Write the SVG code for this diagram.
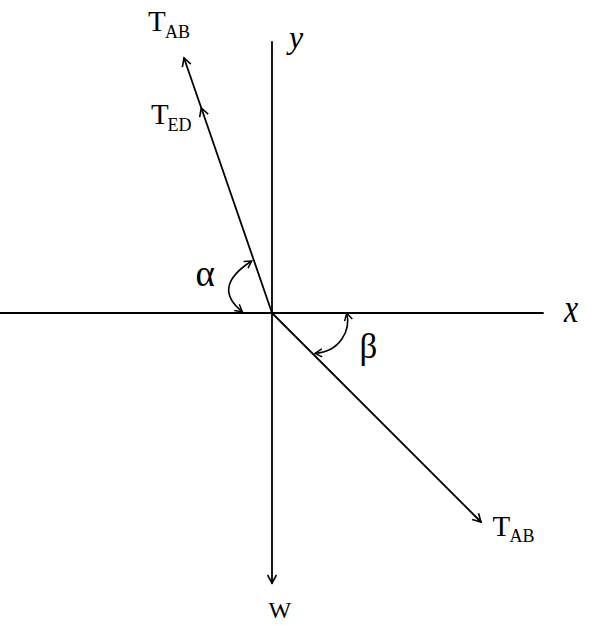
<svg xmlns="http://www.w3.org/2000/svg" width="590" height="625" viewBox="0 0 590 625">
  <defs>
    <style>
      .ln { fill: none; stroke: #000; stroke-width: 1.8; stroke-linecap: round; stroke-linejoin: round; }
      .arc { fill: none; stroke: #000; stroke-width: 1.6; }
      .lbl { font-family: "Liberation Serif", "Times New Roman", serif; fill: #000; }
      .it { font-style: italic; }
    </style>
    <marker id="ah" markerUnits="userSpaceOnUse" viewBox="-10 -6 12 12" refX="0" refY="0" markerWidth="12" markerHeight="12" orient="auto" overflow="visible">
      <path d="M-8,-4.5 L0,0 L-8,4.5" fill="none" stroke="#000" stroke-width="1.6" stroke-linejoin="miter"/>
    </marker>
    <marker id="ahs" markerUnits="userSpaceOnUse" viewBox="-10 -6 12 12" refX="0" refY="0" markerWidth="12" markerHeight="12" orient="auto-start-reverse" overflow="visible">
      <path d="M-7,-4 L0,0 L-7,4" fill="none" stroke="#000" stroke-width="1.5"/>
    </marker>
  </defs>
  <rect width="590" height="625" fill="#fff"/>

  <g id="connectors">
    <line id="x-axis" class="ln" x1="0" y1="313" x2="543" y2="313"/>
    <line id="y-axis" class="ln" x1="272" y1="42" x2="272" y2="583" marker-end="url(#ah)"/>
    <path id="t-upper" class="ln" d="M272,313 L201.3,108 L184,58" marker-mid="url(#ah)" marker-end="url(#ah)"/>
    <line id="t-lower" class="ln" x1="272" y1="313" x2="481" y2="522" marker-end="url(#ah)"/>
    <path id="alpha-arc" class="arc" d="M251.7,261 Q211,287 242.3,311.7" marker-start="url(#ahs)" marker-end="url(#ahs)"/>
    <path id="beta-arc" class="arc" d="M346.7,313.3 C351,330 340,352 315,353.3" marker-start="url(#ahs)" marker-end="url(#ahs)"/>
  </g>

  <g id="label-tab-top">
    <text class="lbl" x="148" y="31" font-size="29">T</text>
    <text class="lbl" x="165" y="37.5" font-size="18">AB</text>
  </g>
  <g id="label-ted">
    <text class="lbl" x="151" y="123.5" font-size="29">T</text>
    <text class="lbl" x="167.5" y="131" font-size="18">ED</text>
  </g>
  <g id="label-tab-bottom">
    <text class="lbl" x="492.5" y="536" font-size="29">T</text>
    <text class="lbl" x="509.5" y="542" font-size="18">AB</text>
  </g>
  <g id="label-y">
    <text class="lbl it" x="289" y="47.5" font-size="32">y</text>
  </g>
  <g id="label-x">
    <text class="lbl it" transform="translate(564,321.7) scale(0.8,1)" x="0" y="0" font-size="40">x</text>
  </g>
  <g id="label-alpha">
    <text class="lbl" x="195.5" y="286" font-size="37">α</text>
  </g>
  <g id="label-beta">
    <text class="lbl" x="359.5" y="358" font-size="35">β</text>
  </g>
  <g id="label-w">
    <text class="lbl" x="268.5" y="617.5" font-size="24">W</text>
  </g>
</svg>
